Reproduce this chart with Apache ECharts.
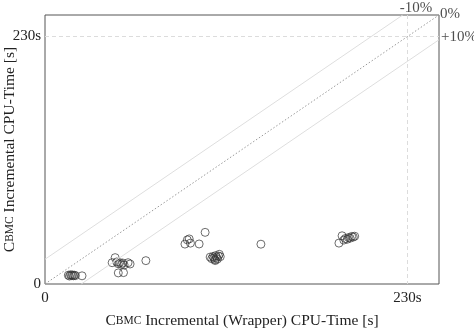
<!DOCTYPE html>
<html><head><meta charset="utf-8">
<script src="https://cdn.jsdelivr.net/npm/echarts@6/dist/echarts.min.js"></script>
<style>html,body{margin:0;padding:0;background:#fff}#c{width:474px;height:331px}</style>
</head><body><div id="c"></div>
<script>
// Measured points: x = Incremental (Wrapper) CPU time, y = Incremental CPU time (seconds)
const xValues = [
  14.8, 15.5, 16.2, 16.8, 17.4, 18.0, 18.6, 19.3, 23.5,
  42.6, 44.5, 45.5, 46.5, 47.4, 48.5, 49.3, 50.2, 52.7, 54.0, 46.5, 49.8, 64.0,
  88.8, 90.3, 91.5, 92.3, 97.8, 101.6,
  104.8, 105.8, 106.6, 107.2, 107.8, 108.3, 108.8, 109.4, 110.0, 110.6, 111.2, 108.0,
  137.0,
  186.5, 188.5, 189.6, 190.6, 191.8, 192.6, 193.6, 194.6, 195.6, 196.5
];
const yValues = [
  8.2, 7.4, 8.6, 7.8, 8.4, 7.6, 8.2, 7.8, 7.6,
  19.8, 24.5, 20.5, 18.8, 19.9, 18.2, 19.5, 17.7, 19.8, 18.6, 10.3, 10.6, 21.7,
  37.1, 41.0, 41.9, 38.0, 37.2, 48.0,
  25.0, 23.5, 25.6, 24.3, 22.6, 26.4, 24.8, 23.2, 26.0, 27.6, 25.4, 21.8,
  37.0,
  38.0, 44.8, 40.8, 42.3, 41.6, 43.2, 42.6, 44.2, 43.6, 44.4
];
const axisMin = 0, axisMax = 250;
const tickValues = [0, 230];
const tickLabels = ['0', '230s'];
const bandOffset = 23;               // ±10 % of 230 s
const bandLabels = ['-10%', '0%', '+10%'];

const serif = 'Liberation Serif';
const rich = {
  big: { fontFamily: serif, fontSize: 15.5, color: '#222' },
  sc: { fontFamily: serif, fontSize: 11.5, color: '#222' }
};
const fmtTick = v => { const i = tickValues.indexOf(v); return i >= 0 ? tickLabels[i] : ''; };

const points = xValues.map((x, i) => [x, yValues[i]]);
const lineUpper = [[axisMin, axisMin + bandOffset], [axisMax - bandOffset, axisMax]];
const lineDiag = [[axisMin, axisMin], [axisMax, axisMax]];
const lineLower = [[axisMin + bandOffset, axisMin], [axisMax, axisMax - bandOffset]];

const axisCommon = {
  type: 'value', min: axisMin, max: axisMax, interval: tickValues[1] - tickValues[0],
  axisLine: { show: false }, axisTick: { show: false },
  splitLine: { show: true, showMinLine: false, showMaxLine: false, lineStyle: { color: '#dcdcdc', type: [4, 3], width: 1 } },
  axisLabel: { formatter: fmtTick, fontFamily: serif, fontSize: 15, color: '#222', showMaxLabel: false },
  nameLocation: 'middle',
  nameMoveOverlap: false,
  nameTextStyle: { rich: rich }
};

const chart = echarts.init(document.getElementById('c'), null, { renderer: 'canvas' });
chart.setOption({
  animation: false,
  backgroundColor: '#fff',
  grid: { left: 45, right: 35, top: 15, bottom: 47, show: true, borderColor: '#555', borderWidth: 1, containLabel: false, outerBoundsMode: 'none' },
  xAxis: Object.assign({}, axisCommon, {
    name: '{big|C}{sc|BMC}{big| Incremental (Wrapper) CPU-Time [s]}',
    nameGap: 29,
    axisLabel: Object.assign({}, axisCommon.axisLabel, { margin: 7 })
  }),
  yAxis: Object.assign({}, axisCommon, {
    name: '{big|C}{sc|BMC}{big| Incremental CPU-Time [s]}',
    nameGap: 27, nameRotate: 90,
    axisLabel: Object.assign({}, axisCommon.axisLabel, { margin: 4 })
  }),
  series: [
    { type: 'line', data: lineUpper, symbol: 'none', silent: true, lineStyle: { color: '#dedede', width: 1 } },
    { type: 'line', data: lineDiag, symbol: 'none', silent: true, lineStyle: { color: '#9a9a9a', width: 1, type: [1.5, 2] } },
    { type: 'line', data: lineLower, symbol: 'none', silent: true, lineStyle: { color: '#dedede', width: 1 } },
    { type: 'scatter', data: points, symbol: 'circle', symbolSize: 8,
      itemStyle: { color: 'rgba(0,0,0,0)', borderColor: '#333', borderWidth: 0.9 } },
    { type: 'scatter', symbolSize: 0, silent: true, clip: false,
      label: { show: true, fontFamily: serif, fontSize: 15, color: '#222' },
      data: [
        { value: lineUpper[1], label: { position: 'top', align: 'left', distance: 0, offset: [-3, 1], formatter: bandLabels[0] } },
        { value: lineDiag[1], label: { position: 'right', distance: 1, offset: [0, -1], formatter: bandLabels[1] } },
        { value: lineLower[1], label: { position: 'right', distance: 2, offset: [0, -3], formatter: bandLabels[2] } }
      ] }
  ]
});
</script></body></html>
